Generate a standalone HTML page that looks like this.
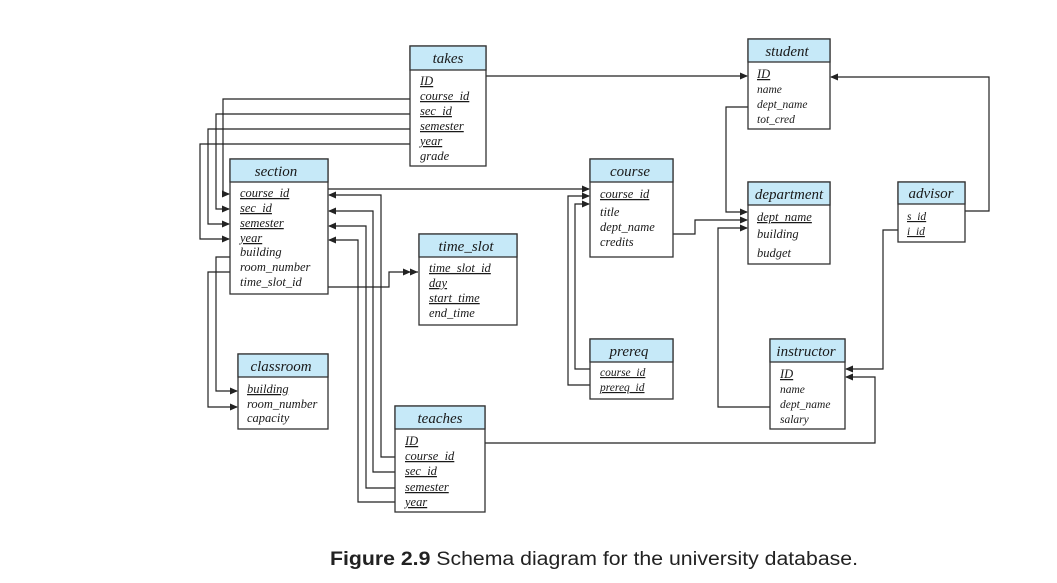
<!DOCTYPE html>
<html><head><meta charset="utf-8"><style>
html,body{margin:0;padding:0;background:#fff;}
svg{display:block;}
.h{font:italic 15px "Liberation Serif",serif;fill:#1a1a1a;}
.f{font:italic 12.5px "Liberation Serif",serif;fill:#1a1a1a;}
.u{text-decoration:underline;}
.box{fill:#fff;stroke:#333;stroke-width:1.3;}
.hd{fill:#c6e9f8;stroke:#333;stroke-width:1.3;}
.l{fill:none;stroke:#222;stroke-width:1.2;}
</style></head><body>
<svg width="1057" height="583" viewBox="0 0 1057 583" xmlns="http://www.w3.org/2000/svg">
<defs>
<marker id="a" markerWidth="8" markerHeight="8" refX="7" refY="4" orient="auto" markerUnits="userSpaceOnUse">
<path d="M0,0.5 L8,4 L0,7.5 z" fill="#222"/></marker>
<marker id="aa" markerWidth="16" markerHeight="8" refX="15" refY="4" orient="auto" markerUnits="userSpaceOnUse">
<path d="M0,0.5 L8,4 L0,7.5 z M7,0.5 L15,4 L7,7.5 z" fill="#222"/></marker>
</defs>

<!-- connectors -->
<g class="l">
<polyline points="486,76 747,76" marker-end="url(#a)"/>
<polyline points="410,99 223,99 223,194 229,194" marker-end="url(#a)"/>
<polyline points="410,114 216,114 216,209 229,209" marker-end="url(#a)"/>
<polyline points="410,129 208,129 208,224 229,224" marker-end="url(#a)"/>
<polyline points="410,144 200,144 200,239 229,239" marker-end="url(#a)"/>
<polyline points="328,189 589,189" marker-end="url(#a)"/>
<polyline points="395,457 381,457 381,195 329,195" marker-end="url(#a)"/>
<polyline points="395,472 373,472 373,211 329,211" marker-end="url(#a)"/>
<polyline points="395,488 366,488 366,226 329,226" marker-end="url(#a)"/>
<polyline points="395,502 358,502 358,240 329,240" marker-end="url(#a)"/>
<polyline points="230,257 216,257 216,391 237,391" marker-end="url(#a)"/>
<polyline points="230,272 208,272 208,407 237,407" marker-end="url(#a)"/>
<polyline points="328,287 389,287 389,272 418,272" marker-end="url(#aa)"/>
<polyline points="485,443 875,443 875,377 846,377" marker-end="url(#a)"/>
<polyline points="898,230 883,230 883,369 846,369" marker-end="url(#a)"/>
<polyline points="965,211 989,211 989,77 831,77" marker-end="url(#a)"/>
<polyline points="748,107 726,107 726,212 747,212" marker-end="url(#a)"/>
<polyline points="673,234 695,234 695,220 747,220" marker-end="url(#a)"/>
<polyline points="770,407 718,407 718,228 747,228" marker-end="url(#a)"/>
<polyline points="590,369 575,369 575,204 589,204" marker-end="url(#a)"/>
<polyline points="590,385 568,385 568,196 589,196" marker-end="url(#a)"/>
</g>

<!-- takes -->
<rect class="box" x="410" y="46" width="76" height="120"/><rect class="hd" x="410" y="46" width="76" height="24"/>
<text class="h" x="448" y="63" text-anchor="middle">takes</text>
<text class="f" x="420" y="85"><tspan class="u">ID</tspan></text>
<text class="f u" x="420" y="100">course_id</text>
<text class="f u" x="420" y="115">sec_id</text>
<text class="f u" x="420" y="130">semester</text>
<text class="f u" x="420" y="145">year</text>
<text class="f" x="420" y="160">grade</text>

<!-- section -->
<rect class="box" x="230" y="159" width="98" height="135"/><rect class="hd" x="230" y="159" width="98" height="23"/>
<text class="h" x="276" y="176" text-anchor="middle">section</text>
<text class="f u" x="240" y="197">course_id</text>
<text class="f u" x="240" y="212">sec_id</text>
<text class="f u" x="240" y="227">semester</text>
<text class="f u" x="240" y="242">year</text>
<text class="f" x="240" y="256">building</text>
<text class="f" x="240" y="271">room_number</text>
<text class="f" x="240" y="286">time_slot_id</text>

<!-- time_slot -->
<rect class="box" x="419" y="234" width="98" height="91"/><rect class="hd" x="419" y="234" width="98" height="23"/>
<text class="h" x="466" y="251" text-anchor="middle">time_slot</text>
<text class="f u" x="429" y="272">time_slot_id</text>
<text class="f u" x="429" y="287">day</text>
<text class="f u" x="429" y="302">start_time</text>
<text class="f" x="429" y="317">end_time</text>

<!-- classroom -->
<rect class="box" x="238" y="354" width="90" height="75"/><rect class="hd" x="238" y="354" width="90" height="23"/>
<text class="h" x="281" y="371" text-anchor="middle">classroom</text>
<text class="f u" x="247" y="393">building</text>
<text class="f" x="247" y="408">room_number</text>
<text class="f" x="247" y="422">capacity</text>

<!-- teaches -->
<rect class="box" x="395" y="406" width="90" height="106"/><rect class="hd" x="395" y="406" width="90" height="23"/>
<text class="h" x="440" y="423" text-anchor="middle">teaches</text>
<text class="f u" x="405" y="445">ID</text>
<text class="f u" x="405" y="460">course_id</text>
<text class="f u" x="405" y="475">sec_id</text>
<text class="f u" x="405" y="491">semester</text>
<text class="f u" x="405" y="506">year</text>

<!-- student -->
<rect class="box" x="748" y="39" width="82" height="90"/><rect class="hd" x="748" y="39" width="82" height="23"/>
<text class="h" x="787" y="56" text-anchor="middle">student</text>
<text class="f u" x="757" y="78">ID</text>
<text class="f" x="757" y="93" style="font-size:11.5px">name</text>
<text class="f" x="757" y="108" style="font-size:11.5px">dept_name</text>
<text class="f" x="757" y="123" style="font-size:11.5px">tot_cred</text>

<!-- course -->
<rect class="box" x="590" y="159" width="83" height="98"/><rect class="hd" x="590" y="159" width="83" height="23"/>
<text class="h" x="630" y="176" text-anchor="middle">course</text>
<text class="f u" x="600" y="198">course_id</text>
<text class="f" x="600" y="216">title</text>
<text class="f" x="600" y="231">dept_name</text>
<text class="f" x="600" y="246">credits</text>

<!-- department -->
<rect class="box" x="748" y="182" width="82" height="82"/><rect class="hd" x="748" y="182" width="82" height="23"/>
<text class="h" x="789" y="199" text-anchor="middle">department</text>
<text class="f u" x="757" y="221">dept_name</text>
<text class="f" x="757" y="238">building</text>
<text class="f" x="757" y="257">budget</text>

<!-- advisor -->
<rect class="box" x="898" y="182" width="67" height="60"/><rect class="hd" x="898" y="182" width="67" height="22"/>
<text class="h" x="931" y="198" text-anchor="middle">advisor</text>
<text class="f u" x="907" y="220" style="font-size:11.5px">s_id</text>
<text class="f u" x="907" y="235" style="font-size:11.5px">i_id</text>

<!-- prereq -->
<rect class="box" x="590" y="339" width="83" height="60"/><rect class="hd" x="590" y="339" width="83" height="23"/>
<text class="h" x="629" y="356" text-anchor="middle">prereq</text>
<text class="f u" x="600" y="376" style="font-size:11.5px">course_id</text>
<text class="f u" x="600" y="391" style="font-size:11.5px">prereq_id</text>

<!-- instructor -->
<rect class="box" x="770" y="339" width="75" height="90"/><rect class="hd" x="770" y="339" width="75" height="23"/>
<text class="h" x="806" y="356" text-anchor="middle">instructor</text>
<text class="f u" x="780" y="378">ID</text>
<text class="f" x="780" y="393" style="font-size:11.5px">name</text>
<text class="f" x="780" y="408" style="font-size:11.5px">dept_name</text>
<text class="f" x="780" y="423" style="font-size:11.5px">salary</text>

<!-- caption -->
<text x="330" y="565" style="font:19px 'Liberation Sans',sans-serif;fill:#222" textLength="528" lengthAdjust="spacingAndGlyphs"><tspan font-weight="bold">Figure 2.9</tspan>   Schema diagram for the university database.</text>
</svg>
</body></html>
